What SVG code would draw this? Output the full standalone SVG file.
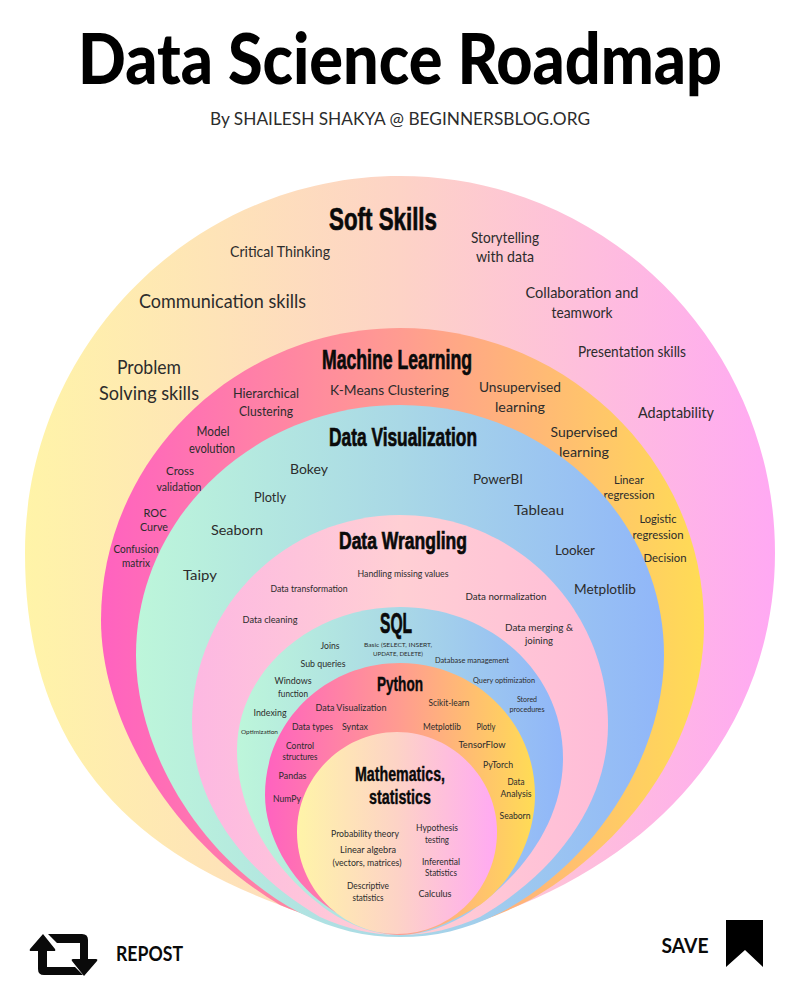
<svg xmlns="http://www.w3.org/2000/svg" width="800" height="1000" viewBox="0 0 800 1000">
<style>
text{font-family:"Lato","Liberation Sans",sans-serif;font-weight:400;fill:#2c2c2c;text-anchor:middle}
.h{font-family:"Liberation Sans Narrow","Liberation Sans",sans-serif;font-weight:700;fill:#0a0a0a;stroke:#0a0a0a;stroke-width:.7}
.s{stroke-width:.4}
.a{font-size:19px}.b{font-size:15px}.c{font-size:14px}.d{font-size:11px}.e{font-size:9px}.f{font-size:6px}
</style>
<defs>
<linearGradient id="gSun"><stop offset="0" stop-color="#fff4a8"/><stop offset=".5" stop-color="#fdd3c6"/><stop offset="1" stop-color="#ffa9f3"/></linearGradient>
<linearGradient id="gHot"><stop offset="0" stop-color="#ff62c0"/><stop offset=".5" stop-color="#ff9c90"/><stop offset="1" stop-color="#ffdc55"/></linearGradient>
<linearGradient id="gCool"><stop offset="0" stop-color="#bdf6da"/><stop offset=".5" stop-color="#a9d8e6"/><stop offset="1" stop-color="#90b6f9"/></linearGradient>
<linearGradient id="gPink"><stop offset="0" stop-color="#fdb8e2"/><stop offset=".5" stop-color="#ffcfd4"/><stop offset="1" stop-color="#ffbcd8"/></linearGradient>
</defs>
<g id="header">
<text x="400" y="84" font-size="70" textLength="644" lengthAdjust="spacingAndGlyphs" style="fill:#000;font-weight:900">Data Science Roadmap</text>
<text x="400" y="125" font-size="17" textLength="380" lengthAdjust="spacingAndGlyphs">By SHAILESH SHAKYA @ BEGINNERSBLOG.ORG</text>
</g>
<g id="soft-skills">
<path fill="url(#gSun)" d="M400 176C193 176 25 345 25 553C25 710 90 835 280 905C330 925 365 936 400 936C435 936 470 925 520 905C690 835 775 700 775 553C775 345 607 176 400 176Z"/>
<text class="h" x="383" y="230" font-size="32" textLength="108" lengthAdjust="spacingAndGlyphs">Soft Skills</text>
<text class="b" x="280" y="257" textLength="100" lengthAdjust="spacingAndGlyphs">Critical Thinking</text>
<text class="b" x="505" y="243" textLength="68" lengthAdjust="spacingAndGlyphs">Storytelling</text>
<text class="b" x="505" y="262" textLength="58" lengthAdjust="spacingAndGlyphs">with data</text>
<text class="a" x="222.500" y="308" textLength="167" lengthAdjust="spacingAndGlyphs">Communication skills</text>
<text class="b" x="582" y="298" textLength="113" lengthAdjust="spacingAndGlyphs">Collaboration and</text>
<text class="b" x="582" y="318" textLength="61" lengthAdjust="spacingAndGlyphs">teamwork</text>
<text class="b" x="632" y="357" textLength="108" lengthAdjust="spacingAndGlyphs">Presentation skills</text>
<text class="a" x="149" y="374" textLength="64" lengthAdjust="spacingAndGlyphs">Problem</text>
<text class="a" x="149" y="400" textLength="100" lengthAdjust="spacingAndGlyphs">Solving skills</text>
<text class="b" x="676" y="418" textLength="76" lengthAdjust="spacingAndGlyphs">Adaptability</text>
</g>
<g id="machine-learning">
<path fill="url(#gHot)" d="M400 328C235 328 101 460 101 620C101 720 170 840 280 905C330 925 365 936 400 936C435 936 480 925 530 900C650 830 704 720 704 625C704 460 565 328 400 328Z"/>
<text class="h" x="397" y="369" font-size="27" textLength="150" lengthAdjust="spacingAndGlyphs">Machine Learning</text>
<text class="c" x="389.500" y="395" textLength="119" lengthAdjust="spacingAndGlyphs">K-Means Clustering</text>
<text class="c" x="266" y="398" textLength="66" lengthAdjust="spacingAndGlyphs">Hierarchical</text>
<text class="c" x="266" y="416" textLength="54" lengthAdjust="spacingAndGlyphs">Clustering</text>
<text class="c" x="520" y="392" textLength="82" lengthAdjust="spacingAndGlyphs">Unsupervised</text>
<text class="c" x="520" y="412" textLength="50" lengthAdjust="spacingAndGlyphs">learning</text>
<text class="c" x="213" y="436" textLength="33" lengthAdjust="spacingAndGlyphs">Model</text>
<text class="c" x="212" y="453" textLength="46" lengthAdjust="spacingAndGlyphs">evolution</text>
<text class="c" x="584" y="437" textLength="67" lengthAdjust="spacingAndGlyphs">Supervised</text>
<text class="c" x="584" y="457" textLength="50" lengthAdjust="spacingAndGlyphs">learning</text>
<text class="d" x="180" y="475" textLength="28" lengthAdjust="spacingAndGlyphs">Cross</text>
<text class="d" x="179" y="491" textLength="45" lengthAdjust="spacingAndGlyphs">validation</text>
<text class="d" x="155" y="517" textLength="23" lengthAdjust="spacingAndGlyphs">ROC</text>
<text class="d" x="154" y="531" textLength="28" lengthAdjust="spacingAndGlyphs">Curve</text>
<text class="d" x="136" y="553" textLength="45" lengthAdjust="spacingAndGlyphs">Confusion</text>
<text class="d" x="136" y="567" textLength="28" lengthAdjust="spacingAndGlyphs">matrix</text>
<text class="d" x="629" y="484" textLength="30" lengthAdjust="spacingAndGlyphs">Linear</text>
<text class="d" x="629" y="499" textLength="51" lengthAdjust="spacingAndGlyphs">regression</text>
<text class="d" x="658" y="523" textLength="37" lengthAdjust="spacingAndGlyphs">Logistic</text>
<text class="d" x="658" y="539" textLength="51" lengthAdjust="spacingAndGlyphs">regression</text>
<text class="d" x="665" y="562" textLength="43" lengthAdjust="spacingAndGlyphs">Decision</text>
</g>
<g id="data-visualization">
<path fill="url(#gCool)" d="M400 405C254 405 136 517 136 655C136 750 200 860 300 913C335 930 365 937 400 937C435 937 465 930 500 913C600 860 664 750 664 655C664 517 546 405 400 405Z"/>
<text class="h" x="403" y="446" font-size="26" textLength="148" lengthAdjust="spacingAndGlyphs">Data Visualization</text>
<text class="c" x="309" y="474" textLength="38" lengthAdjust="spacingAndGlyphs">Bokey</text>
<text class="c" x="498" y="484" textLength="50" lengthAdjust="spacingAndGlyphs">PowerBI</text>
<text class="c" x="270" y="502" textLength="32" lengthAdjust="spacingAndGlyphs">Plotly</text>
<text class="c" x="539" y="515" textLength="50" lengthAdjust="spacingAndGlyphs">Tableau</text>
<text class="c" x="237" y="535" textLength="52" lengthAdjust="spacingAndGlyphs">Seaborn</text>
<text class="c" x="575" y="555" textLength="40" lengthAdjust="spacingAndGlyphs">Looker</text>
<text class="c" x="200" y="580" textLength="34" lengthAdjust="spacingAndGlyphs">Taipy</text>
<text class="c" x="605" y="594" textLength="62" lengthAdjust="spacingAndGlyphs">Metplotlib</text>
</g>
<g id="data-wrangling">
<path fill="url(#gPink)" d="M400 515C285 515 192 608 192 723C192 800 240 870 320 917C345 928 370 935 400 935C430 935 455 928 480 917C560 870 608 800 608 725C608 608 515 515 400 515Z"/>
<text class="h" x="403" y="549" font-size="23" textLength="128" lengthAdjust="spacingAndGlyphs">Data Wrangling</text>
<text class="e" x="403" y="577" textLength="91" lengthAdjust="spacingAndGlyphs">Handling missing values</text>
<text class="e" x="309" y="592" textLength="77" lengthAdjust="spacingAndGlyphs">Data transformation</text>
<text class="e" x="506" y="600" textLength="81" lengthAdjust="spacingAndGlyphs">Data normalization</text>
<text class="e" x="270" y="623" textLength="55" lengthAdjust="spacingAndGlyphs">Data cleaning</text>
<text class="e" x="539" y="631" textLength="68" lengthAdjust="spacingAndGlyphs">Data merging &amp;</text>
<text class="e" x="539" y="644" textLength="28" lengthAdjust="spacingAndGlyphs">joining</text>
</g>
<g id="sql">
<path fill="url(#gCool)" d="M400 607C310 607 237 672 237 750C237 810 270 870 330 912C350 925 375 935 400 935C425 935 450 925 470 912C530 870 563 815 563 758C563 672 490 607 400 607Z"/>
<text class="h" x="396" y="633" font-size="29" textLength="32" lengthAdjust="spacingAndGlyphs">SQL</text>
<text class="e" x="330" y="649" textLength="19" lengthAdjust="spacingAndGlyphs">Joins</text>
<text class="f" x="398" y="647" textLength="68" lengthAdjust="spacingAndGlyphs">Basic (SELECT, INSERT,</text>
<text class="f" x="398" y="656" textLength="50" lengthAdjust="spacingAndGlyphs">UPDATE, DELETE)</text>
<text class="e" x="323" y="667" textLength="45" lengthAdjust="spacingAndGlyphs">Sub queries</text>
<text class="e" x="472" y="663" style="font-size:8px" textLength="74" lengthAdjust="spacingAndGlyphs">Database management</text>
<text class="e" x="293" y="684" textLength="37" lengthAdjust="spacingAndGlyphs">Windows</text>
<text class="e" x="293" y="697" textLength="30" lengthAdjust="spacingAndGlyphs">function</text>
<text class="e" x="504" y="683" style="font-size:8px" textLength="62" lengthAdjust="spacingAndGlyphs">Query optimization</text>
<text class="e" x="527" y="702" style="font-size:8px" textLength="20" lengthAdjust="spacingAndGlyphs">Stored</text>
<text class="e" x="527" y="712" style="font-size:8px" textLength="35" lengthAdjust="spacingAndGlyphs">procedures</text>
<text class="e" x="270" y="716" textLength="33" lengthAdjust="spacingAndGlyphs">Indexing</text>
<text class="f" x="259.500" y="734" textLength="37" lengthAdjust="spacingAndGlyphs">Optimization</text>
</g>
<g id="python">
<path fill="url(#gHot)" d="M400 663C325 663 265 722 265 795C265 835 290 880 325 905C345 920 375 935 400 935C425 935 455 920 480 905C515 880 535 835 535 795C535 722 475 663 400 663Z"/>
<text class="h s" x="400" y="691" font-size="20" textLength="46" lengthAdjust="spacingAndGlyphs">Python</text>
<text class="e" x="351" y="711" textLength="71" lengthAdjust="spacingAndGlyphs">Data Visualization</text>
<text class="e" x="449" y="706" textLength="41" lengthAdjust="spacingAndGlyphs">Scikit-learn</text>
<text class="e" x="312.500" y="730" textLength="41" lengthAdjust="spacingAndGlyphs">Data types</text>
<text class="e" x="355" y="730" textLength="26" lengthAdjust="spacingAndGlyphs">Syntax</text>
<text class="e" x="442" y="730" textLength="38" lengthAdjust="spacingAndGlyphs">Metplotlib</text>
<text class="e" x="486" y="730" textLength="19" lengthAdjust="spacingAndGlyphs">Plotly</text>
<text class="e" x="300" y="749" textLength="28" lengthAdjust="spacingAndGlyphs">Control</text>
<text class="e" x="300" y="760" textLength="35" lengthAdjust="spacingAndGlyphs">structures</text>
<text class="e" x="482" y="748" style="font-size:10px" textLength="47" lengthAdjust="spacingAndGlyphs">TensorFlow</text>
<text class="e" x="498" y="768" textLength="30" lengthAdjust="spacingAndGlyphs">PyTorch</text>
<text class="e" x="292.500" y="779" textLength="28" lengthAdjust="spacingAndGlyphs">Pandas</text>
<text class="e" x="516" y="785" textLength="17" lengthAdjust="spacingAndGlyphs">Data</text>
<text class="e" x="516" y="797" textLength="31" lengthAdjust="spacingAndGlyphs">Analysis</text>
<text class="e" x="287" y="802" textLength="28" lengthAdjust="spacingAndGlyphs">NumPy</text>
<text class="e" x="515" y="819" textLength="31" lengthAdjust="spacingAndGlyphs">Seaborn</text>
</g>
<g id="mathematics-statistics">
<path fill="url(#gSun)" d="M397 732C342 732 297 778 297 832C297 888 342 934 397 934C452 934 497 888 497 832C497 778 452 732 397 732Z"/>
<text class="h s" x="400" y="781" font-size="20" textLength="90" lengthAdjust="spacingAndGlyphs">Mathematics,</text>
<text class="h s" x="400" y="804" font-size="20" textLength="62" lengthAdjust="spacingAndGlyphs">statistics</text>
<text class="e" x="365" y="837" textLength="68" lengthAdjust="spacingAndGlyphs">Probability theory</text>
<text class="e" x="437" y="831" textLength="42" lengthAdjust="spacingAndGlyphs">Hypothesis</text>
<text class="e" x="437" y="843" textLength="24" lengthAdjust="spacingAndGlyphs">testing</text>
<text class="e" x="368" y="853" textLength="56" lengthAdjust="spacingAndGlyphs">Linear algebra</text>
<text class="e" x="367" y="866" textLength="69" lengthAdjust="spacingAndGlyphs">(vectors, matrices)</text>
<text class="e" x="441" y="865" textLength="38" lengthAdjust="spacingAndGlyphs">Inferential</text>
<text class="e" x="441" y="876" textLength="32" lengthAdjust="spacingAndGlyphs">Statistics</text>
<text class="e" x="368" y="889" textLength="42" lengthAdjust="spacingAndGlyphs">Descriptive</text>
<text class="e" x="368" y="901" textLength="31" lengthAdjust="spacingAndGlyphs">statistics</text>
<text class="e" x="435" y="897" textLength="33" lengthAdjust="spacingAndGlyphs">Calculus</text>
</g>
<g id="repost">
<path fill="#0a0a0a" d="M43 934L55 949Q56 951 54 951H47V967H75L83 975H44Q38 975 38 969V951H31Q29 951 30 949Z"/>
<path fill="#0a0a0a" d="M48 934H82Q88 934 88 940V959H96Q98 959 97 961L84 976L72 961Q71 959 73 959H80V943H57Z"/>
<text x="149.500" y="961" font-size="20" textLength="67" lengthAdjust="spacingAndGlyphs" style="fill:#0a0a0a;font-weight:700">REPOST</text>
</g>
<g id="save">
<text x="685" y="953" font-size="20" textLength="47" lengthAdjust="spacingAndGlyphs" style="fill:#0a0a0a;font-weight:700">SAVE</text>
<path fill="#000" d="M726 920H763V967L745 950L726 967Z"/>
</g>
</svg>
